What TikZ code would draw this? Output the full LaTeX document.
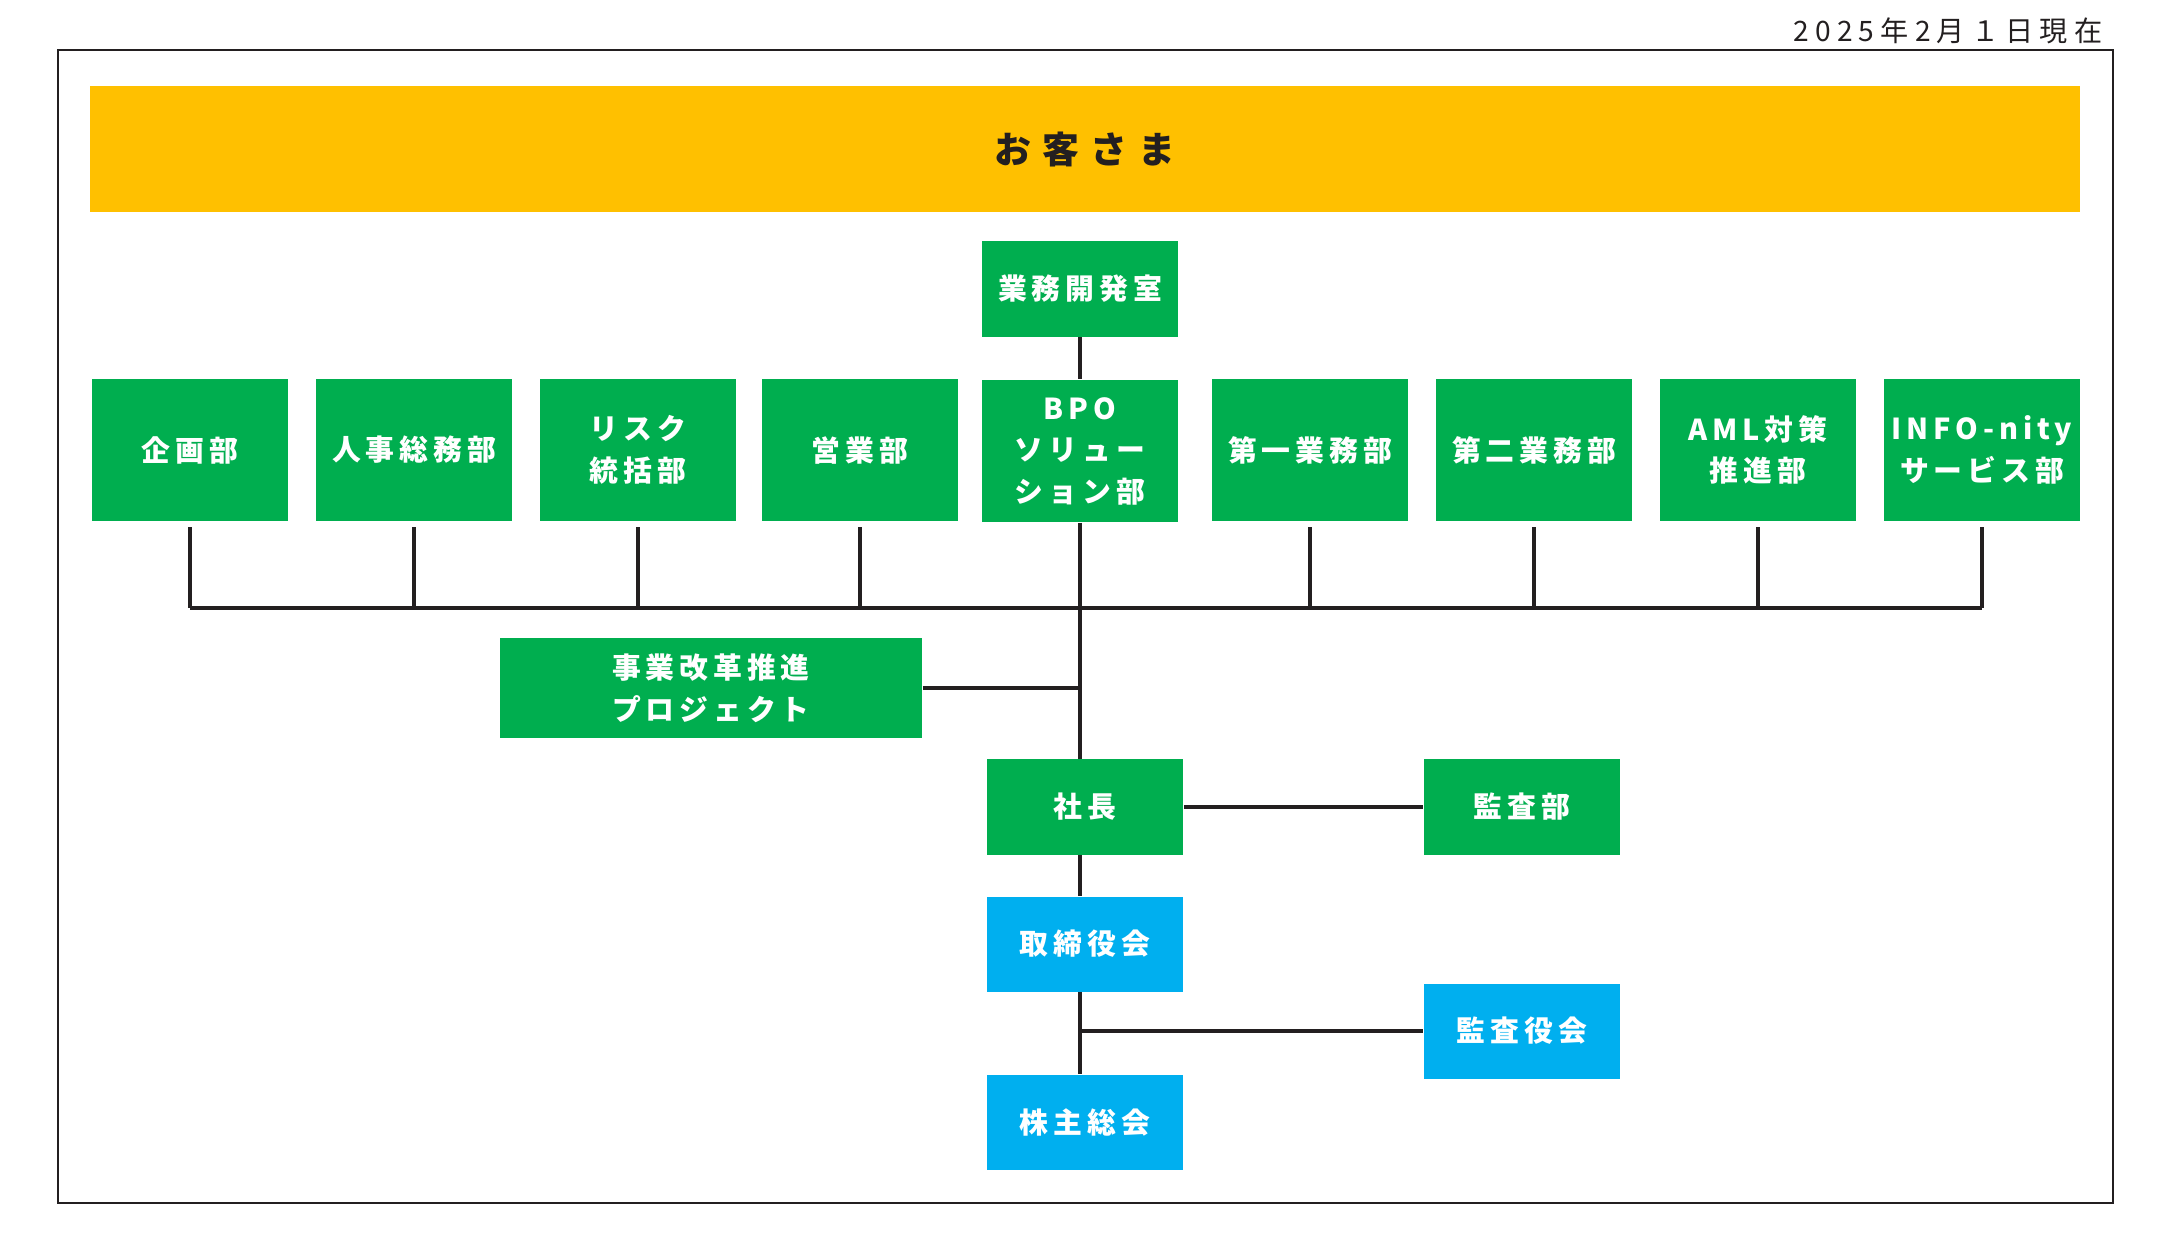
\documentclass[tikz,border=0pt]{standalone}
\usepackage{fontspec}
\setmainfont{Noto Sans CJK JP}
\newfontfamily\jpbox[LetterSpace=17]{Noto Sans CJK JP}
\newfontfamily\jpwide[LetterSpace=30]{Noto Sans CJK JP}
\newfontfamily\jpdate[LetterSpace=22]{Noto Sans CJK JP}
\definecolor{grn}{HTML}{00AE4F}
\definecolor{blu}{HTML}{00AFEF}
\definecolor{yel}{HTML}{FFC000}
\definecolor{ink}{HTML}{231F20}

\begin{document}
\begin{tikzpicture}[
x=0.01cm, y=-0.01cm,
box/.style={
fill=grn,
text=white,
font=\jpbox\bfseries\fontsize{8.2}{11.8}\selectfont,
align=center,
inner sep=0pt,
minimum width=1.96cm,
minimum height=0.95cm
},
tall/.style={minimum height=1.42cm},
board/.style={box, fill=blu},
customer/.style={
fill=yel,
text=ink,
font=\jpwide\bfseries\fontsize{10.5}{12}\selectfont,
inner sep=0pt,
minimum width=19.89cm,
minimum height=1.26cm
},
conn/.style={draw=ink, line width=1.05pt}
]

\useasboundingbox (0,0) rectangle (2170,1244);

\draw[ink, line width=0.6pt] (58,50) rectangle (2113,1203);

\node[anchor=east, text=ink, font=\jpdate\fontsize{8}{10}\selectfont, inner sep=0pt] (asof) at (2103,31) {2025年2月１日現在};

\node[customer] (okyaku) at (1085,149) {お客さま};

\node[box] (kaihatsu) at (1080,289) {業務開発室};

\node[box,tall] (kikaku) at (190,450) {企画部};
\node[box,tall] (jinji) at (414,450) {人事総務部};
\node[box,tall] (risk) at (638,450) {リスク\\統括部};
\node[box,tall] (eigyo) at (860,450) {営業部};
\node[box,tall] (bpo) at (1080,451) {BPO\\ソリュー\\ション部};
\node[box,tall] (daiichi) at (1310,450) {第一業務部};
\node[box,tall] (daini) at (1534,450) {第二業務部};
\node[box,tall] (aml) at (1758,450) {AML対策\\推進部};
\node[box,tall] (info) at (1982,450) {INFO-nity\\サービス部};

\coordinate (bus) at (1080,608);

\node[box, minimum width=4.22cm, minimum height=0.99cm] (kaikaku) at (711,688) {事業改革推進\\プロジェクト};

\node[box] (shacho) at (1085,807) {社長};
\node[box] (kansabu) at (1522,807) {監査部};
\node[board] (torishimari) at (1085,944) {取締役会};
\node[board] (kansayaku) at (1522,1031) {監査役会};
\node[board] (kabunushi) at (1085,1122) {株主総会};

\draw[conn] (kaihatsu) -- (bpo);
\foreach \n in {kikaku,jinji,risk,eigyo,daiichi,daini,aml,info}
\draw[conn] ([yshift=-1.5pt]\n.south) -- (\n.south |- bus);
\draw[conn] (kikaku.south |- bus) -- (info.south |- bus);
\draw[conn] (bpo.south) -- (bpo.south |- shacho.north);
\draw[conn] (kaikaku.east) -- (kaikaku.east -| bpo.south);
\draw[conn] (shacho) -- (kansabu);
\draw[conn] (shacho.south -| bpo.south) -- (torishimari.north -| bpo.south);
\draw[conn] (torishimari.south -| bpo.south) -- (kabunushi.north -| bpo.south);
\coordinate (yaku) at (bpo.south |- kansayaku.west);
\draw[conn] (yaku) -- (kansayaku.west);

\end{tikzpicture}
\end{document}
